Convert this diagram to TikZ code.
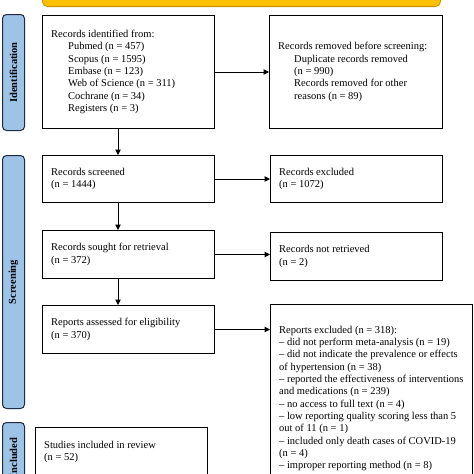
\documentclass[tikz,border=0pt]{standalone}
\usepackage{fontspec}
\setmainfont{Liberation Serif}
\usetikzlibrary{arrows.meta}
\definecolor{bannerfill}{HTML}{FFC000}
\definecolor{bannerline}{HTML}{C89200}
\definecolor{barfill}{HTML}{9DC3E6}
\definecolor{barline}{HTML}{1E2B40}
\tikzset{
  flowbox/.style={draw=black, line width=1pt, rectangle, anchor=north west, inner sep=0pt},
  boxtext/.style={anchor=west, xshift=9pt, align=left, inner sep=0pt, font=\fontsize{10.5pt}{12.3pt}\selectfont},
  sidebar/.style={draw=barline, fill=barfill, line width=1pt, rounded corners=4pt, rectangle, anchor=north west, inner sep=0pt, minimum width=22pt},
  sidetext/.style={rotate=90, font=\fontsize{10.5pt}{12pt}\selectfont\bfseries, inner sep=0pt},
  arr/.style={line width=1pt, -{Triangle[length=5.5pt,width=5.5pt]}},
}
\begin{document}
\begin{tikzpicture}[x=1pt,y=-1pt]
\useasboundingbox (0,0) rectangle (474,474);
\clip (0,0) rectangle (474,474);
\fill[white] (0,0) rectangle (474,474);
% banner
\node[draw=bannerline, fill=bannerfill, line width=0.8pt, rounded corners=5pt, anchor=south west, minimum width=398pt, minimum height=40pt, inner sep=0pt] (banner) at (42,7) {};
% side bars
\node[sidebar, minimum height=116pt] (barid) at (2,14) {};
\node[sidetext] (tid) at (barid.center) {Identification};
\node[sidebar, minimum height=253pt] (barsc) at (2,155) {};
\node[sidetext] (tsc) at (barsc.center) {Screening};
\node[sidebar, minimum height=70pt] (barin) at (2,422) {};
\node[sidetext] (tin) at (barin.center) {Included};
% boxes
\node[flowbox, minimum width=172pt, minimum height=113pt] (b1) at (42,15) {};
\node[boxtext] (t1) at (b1.west) {Records identified from:\\
\hspace*{17pt}Pubmed (n = 457)\\
\hspace*{17pt}Scopus (n = 1595)\\
\hspace*{17pt}Embase (n = 123)\\
\hspace*{17pt}Web of Science (n = 311)\\
\hspace*{17pt}Cochrane (n = 34)\\
\hspace*{17pt}Registers (n = 3)};
\node[flowbox, minimum width=173pt, minimum height=113pt] (b2) at (269,15) {};
\node[boxtext] (t2) at (b2.west) {Records removed before screening:\\
\hspace*{16pt}Duplicate records removed\\
\hspace*{16pt}(n = 990)\\
\hspace*{16pt}Records removed for other\\
\hspace*{16pt}reasons (n = 89)};
\node[flowbox, minimum width=172pt, minimum height=47pt] (b3) at (42,155) {};
\node[boxtext] (t3) at (b3.west) {Records screened\\(n = 1444)};
\node[flowbox, minimum width=172pt, minimum height=47pt] (b4) at (270,155) {};
\node[boxtext] (t4) at (b4.west) {Records excluded\\(n = 1072)};
\node[flowbox, minimum width=172pt, minimum height=48pt] (b5) at (42,230) {};
\node[boxtext] (t5) at (b5.west) {Records sought for retrieval\\(n = 372)};
\node[flowbox, minimum width=172pt, minimum height=48pt] (b6) at (270,232) {};
\node[boxtext] (t6) at (b6.west) {Records not retrieved\\(n = 2)};
\node[flowbox, minimum width=172pt, minimum height=48pt] (b7) at (42,305) {};
\node[boxtext] (t7) at (b7.west) {Reports assessed for eligibility\\(n = 370)};
\node[flowbox, minimum width=202pt, minimum height=188pt] (b8) at (270,304) {};
\node[boxtext] (t8) at (b8.west) {Reports excluded (n = 318):\\
– did not perform meta-analysis (n = 19)\\
– did not indicate the prevalence or effects\\
of hypertension (n = 38)\\
– reported the effectiveness of interventions\\
and medications (n = 239)\\
– no access to full text (n = 4)\\
– low reporting quality scoring less than 5\\
out of 11 (n = 1)\\
– included only death cases of COVID-19\\
(n = 4)\\
– improper reporting method (n = 8)};
\node[flowbox, minimum width=172pt, minimum height=49pt] (b9) at (35,427) {};
\node[boxtext] (t9) at (b9.west) {Studies included in review\\(n = 52)};
% connectors
\coordinate (colx) at (118,0);
\draw[arr] (b1.south -| colx) -- (b3.north -| colx);
\draw[arr] (b3.south -| colx) -- (b5.north -| colx);
\draw[arr] (b5.south -| colx) -- (b7.north -| colx);
\draw[arr] (b1.east) -- (b1.east -| b2.west);
\draw[arr] (b3.east) -- (b3.east -| b4.west);
\draw[arr] (b5.east) -- (b5.east -| b6.west);
\draw[arr] (b7.east) -- (b7.east -| b8.west);
\end{tikzpicture}
\end{document}
